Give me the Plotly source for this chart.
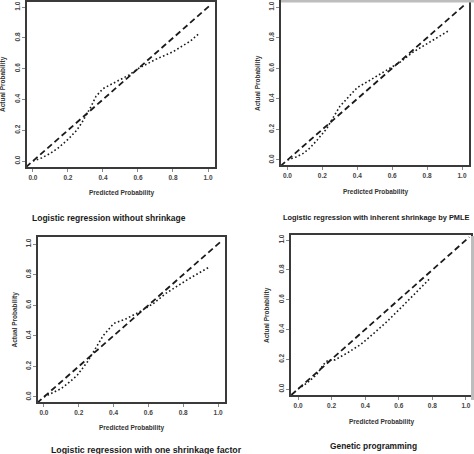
import plotly.graph_objects as go

# ---------------- data ----------------
diag = [-0.04, 1.02]

p1_pred = [0.0, 0.05, 0.10, 0.15, 0.20, 0.25, 0.28, 0.30, 0.33, 0.36, 0.40, 0.45, 0.50, 0.55, 0.60, 0.65, 0.70, 0.80, 0.90, 0.95]
p1_act  = [0.0, 0.02, 0.05, 0.09, 0.14, 0.20, 0.25, 0.29, 0.35, 0.42, 0.47, 0.50, 0.53, 0.56, 0.60, 0.63, 0.66, 0.71, 0.78, 0.83]

p2_pred = [0.0, 0.05, 0.09, 0.13, 0.17, 0.225, 0.263, 0.30, 0.34, 0.40, 0.47, 0.57, 0.645, 0.72, 0.817, 0.93]
p2_act  = [0.0, 0.02, 0.043, 0.08, 0.13, 0.205, 0.28, 0.35, 0.40, 0.474, 0.52, 0.587, 0.64, 0.706, 0.77, 0.85]

p3_pred = [0.0, 0.05, 0.10, 0.15, 0.19, 0.25, 0.30, 0.34, 0.40, 0.47, 0.55, 0.627, 0.70, 0.82, 0.95]
p3_act  = [0.0, 0.025, 0.055, 0.10, 0.14, 0.23, 0.32, 0.40, 0.48, 0.51, 0.557, 0.61, 0.677, 0.764, 0.85]

p4_pred = [0.0, 0.053, 0.11, 0.15, 0.18, 0.22, 0.29, 0.37, 0.43, 0.53, 0.63, 0.71, 0.786]
p4_act  = [0.0, 0.04, 0.096, 0.163, 0.196, 0.196, 0.24, 0.297, 0.353, 0.453, 0.565, 0.654, 0.743]

tick_vals = [0.0, 0.2, 0.4, 0.6, 0.8, 1.0]
tick_text = ["0.0", "0.2", "0.4", "0.6", "0.8", "1.0"]

captions = ["Logistic regression without shrinkage",
            "Logistic regression with inherent shrinkage by PMLE",
            "Logistic regression with one shrinkage factor",
            "Genetic programming"]
x_title = "Predicted Probability"
y_title = "Actual Probability"

# ---------------- layout helpers ----------------
W, H = 474, 454
def fx(px): return px / W
def fy(py): return 1 - py / H

# box pixel extents: (left, right, top, bottom)
boxes = [(27, 215, 1, 167), (281, 469, 1, 165), (38, 225, 237, 402), (291, 471, 235, 395)]
xranges = [[-0.034, 1.04], [-0.037, 1.04], [-0.034, 1.04], [-0.042, 1.03]]
yranges = [[-0.039, 1.04], [-0.033, 1.04], [-0.033, 1.046], [-0.04, 1.034]]
ytitle_x = [3, 258, 14, 267]
xtitle_y = [193, 192, 428, 422]
# (x, y, anchor, size)
cap_pos = [(30, 218, "left", 8.5), (472, 218, "right", 7.4), (49, 450, "left", 8.8), (328, 446, "left", 8.4)]

series = [(p1_pred, p1_act), (p2_pred, p2_act), (p3_pred, p3_act), (p4_pred, p4_act)]

fig = go.Figure()
FONT = "Liberation Sans, Arial, sans-serif"
annotations = []
for i, ((px, py), (l, r, t, b)) in enumerate(zip(series, boxes)):
    n = "" if i == 0 else str(i + 1)
    xa, ya = "x" + n, "y" + n
    fig.add_trace(go.Scatter(x=diag, y=diag, mode="lines", xaxis=xa, yaxis=ya,
                             line=dict(color="#1a1a1a", width=1.8, dash="6px,3.5px"),
                             showlegend=False, hoverinfo="skip"))
    fig.add_trace(go.Scatter(x=px, y=py, mode="lines", xaxis=xa, yaxis=ya,
                             line=dict(color="#1a1a1a", width=1.6, dash="1.6px,2.4px"),
                             showlegend=False, hoverinfo="skip"))
    axcommon = dict(showline=True, mirror=True, linecolor="#3a3a3a", linewidth=1.5,
                    showgrid=False, zeroline=False, ticks="outside", ticklen=3,
                    tickcolor="#888", tickwidth=1,
                    tickvals=tick_vals, ticktext=tick_text,
                    tickfont=dict(family=FONT, size=6.5, color="#444", weight="bold"))
    fig.layout["xaxis" + n] = dict(axcommon, domain=[fx(l), fx(r)], range=xranges[i],
                                   anchor=ya)
    fig.layout["yaxis" + n] = dict(axcommon, domain=[fy(b), fy(t)], range=yranges[i],
                                   anchor=xa, tickangle=-90)
    # axis titles
    annotations.append(dict(text=x_title, xref="paper", yref="paper",
                            x=fx((l + r) / 2), y=fy(xtitle_y[i]), showarrow=False,
                            xanchor="center", yanchor="middle",
                            font=dict(family=FONT, size=6.5, color="#333", weight="bold")))
    annotations.append(dict(text=y_title, xref="paper", yref="paper",
                            x=fx(ytitle_x[i]), y=fy((t + b) / 2), showarrow=False,
                            xanchor="center", yanchor="middle", textangle=-90,
                            font=dict(family=FONT, size=6.5, color="#333", weight="bold")))
    cx, cy, anc, sz = cap_pos[i]
    annotations.append(dict(text=captions[i], xref="paper", yref="paper",
                            x=fx(cx), y=fy(cy), showarrow=False,
                            xanchor=anc, yanchor="middle",
                            font=dict(family=FONT, size=sz, color="#1a1a1a", weight="bold")))

shapes = [
    # light grey crop bars seen in the reference
    dict(type="rect", xref="paper", yref="paper", x0=fx(281), x1=fx(474), y0=fy(2.5), y1=fy(0),
         fillcolor="#bdbdbd", line=dict(width=0), layer="above"),
    dict(type="rect", xref="paper", yref="paper", x0=fx(471), x1=fx(474), y0=fy(400), y1=fy(236),
         fillcolor="#bdbdbd", line=dict(width=0), layer="above"),
    dict(type="rect", xref="paper", yref="paper", x0=fx(27), x1=fx(215), y0=fy(2), y1=fy(0),
         fillcolor="#3a3a3a", line=dict(width=0), layer="above"),
]

fig.update_layout(width=W, height=H, margin=dict(l=0, r=0, t=0, b=0),
                  paper_bgcolor="white", plot_bgcolor="white",
                  annotations=annotations, shapes=shapes, showlegend=False)

fig.write_html("out.html")
